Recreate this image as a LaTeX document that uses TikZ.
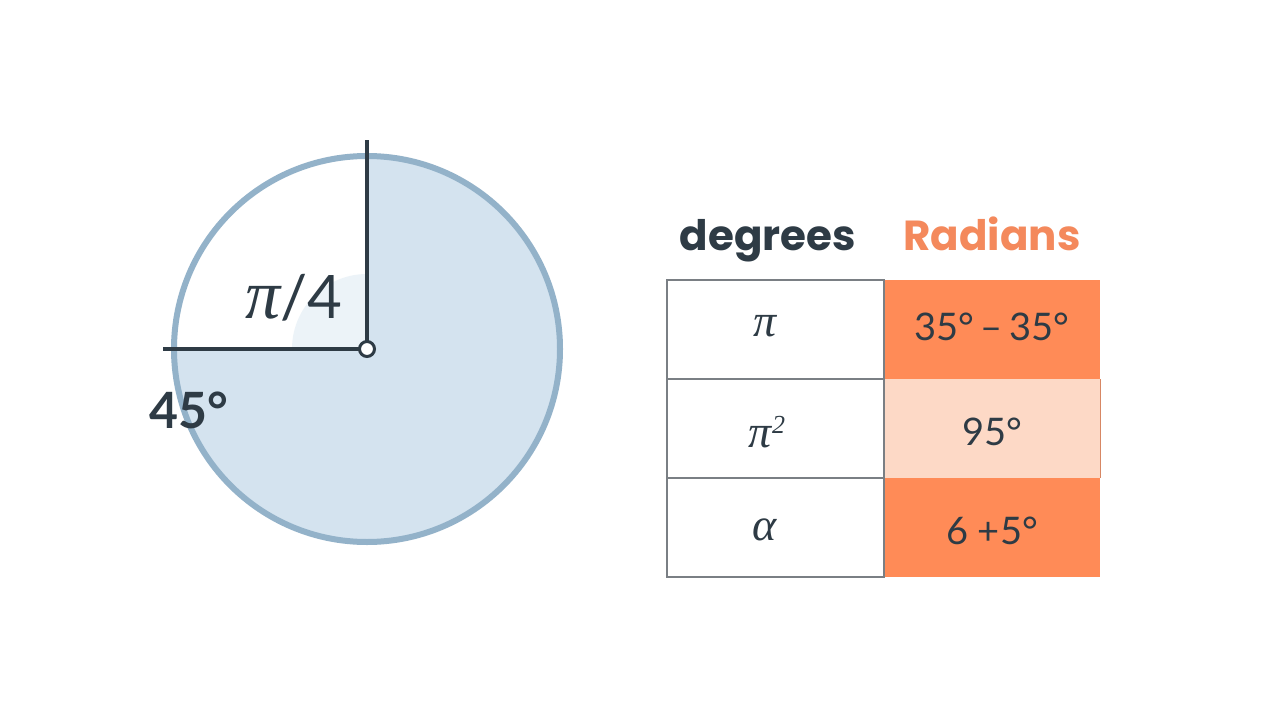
\documentclass[tikz,border=0pt]{standalone}
\usepackage{fontspec}
\newfontfamily\lato{Lato}
\newfontfamily\pop{Poppins}
\newfontfamily\ser{Liberation Serif}
\definecolor{ink}{HTML}{2E3B45}
\definecolor{ringc}{HTML}{93B2C9}
\definecolor{discc}{HTML}{D4E3EF}
\definecolor{orng}{HTML}{FF8B57}
\definecolor{orngtxt}{HTML}{F4895C}
\definecolor{peach}{HTML}{FDD9C6}
\definecolor{gridc}{HTML}{7A7F84}
\tikzset{
  axisline/.style={draw=ink, line width=3.3pt},
  cell/.style={draw=gridc, line width=1.2pt},
  celltext/.style={font=\lato\fontsize{38}{44}\selectfont, text=ink, inner sep=0pt},
  mathtext/.style={font=\ser\itshape\fontsize{46}{50}\selectfont, text=ink, inner sep=0pt},
  headtext/.style={font=\pop\bfseries\fontsize{42}{48}\selectfont, inner sep=0pt, anchor=base}
}
\begin{document}
\begin{tikzpicture}[x=1pt,y=-1pt]
\useasboundingbox (0,0) rectangle (1280,720);
\fill[white] (0,0) rectangle (1280,720);
% disc
\coordinate (O) at (367,349);
\fill[discc] (O) circle (193);
\fill[white] (O) -- ++(-193,0) arc[start angle=180, end angle=270, radius=193] -- cycle;
\fill[discc!45] (O) -- ++(-75,0) arc[start angle=180, end angle=270, radius=75] -- cycle;
\draw[ringc, line width=6pt] (O) circle (193);
% axes
\coordinate (top) at (367,140);
\coordinate (left) at (163,349);
\draw[axisline] (O) -- (top);
\draw[axisline] (O) -- (left);
\node[circle, draw=ink, fill=white, line width=3pt, minimum size=15pt, inner sep=0pt] (ctr) at (O) {};
\node[font=\lato\fontsize{60}{64}\selectfont, text=ink, inner sep=0pt] (pi4) at (294,298) {{\ser\itshape\fontsize{70}{72}\selectfont π}/4};
\node[font=\lato\bfseries\fontsize{50}{56}\selectfont, text=ink, inner sep=0pt] (deg45) at (189,410) {45°};
% table
\fill[orng] (884,280) rectangle (1100,379);
\fill[peach] (884,379) rectangle (1100,478);
\fill[orng] (884,478) rectangle (1100,577);
\draw[cell] (667,280) rectangle (884,577);
\draw[cell] (667,379) -- (884,379);
\draw[cell] (667,478) -- (884,478);
\draw[orng!70!gridc, line width=1pt] (1100,379) -- (1100,478);
\node[headtext, text=ink] (hdeg) at (768,250) {degrees};
\node[headtext, text=orngtxt] (hrad) at (992,250) {Radians};
\node[mathtext] (c11) at (765,326) {π};
\node[mathtext] (c21) at (767,432) {π\raisebox{14pt}{\fontsize{26}{28}\selectfont 2}};
\node[mathtext] (c31) at (765,530) {α};
\node[celltext] (c12) at (992,327) {35°\,–\,35°};
\node[celltext] (c22) at (992,432) {95°};
\node[celltext] (c32) at (992,531) {6 +5°};
\end{tikzpicture}
\end{document}
